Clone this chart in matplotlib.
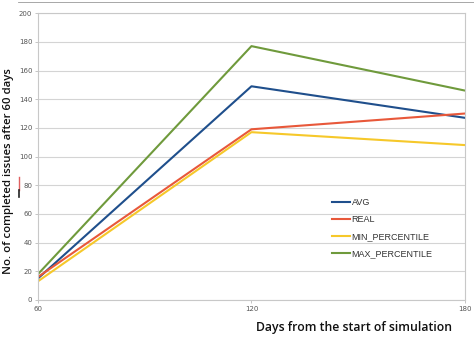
import numpy as np
import matplotlib
matplotlib.use("Agg")
import matplotlib.pyplot as plt
from matplotlib.lines import Line2D

# Data
days = [60, 120, 180]
tick_labels = ["60", "120", "180"]
avg = [15, 149, 127]
real = [16, 119, 130]
min_pct = [13, 117, 108]
max_pct = [18, 177, 146]

series = [
    ("AVG", avg, "#1f4f8c"),
    ("REAL", real, "#e8583a"),
    ("MIN_PERCENTILE", min_pct, "#f6c82a"),
    ("MAX_PERCENTILE", max_pct, "#6f9a3c"),
]

fig = plt.figure(figsize=(4.74, 3.55), dpi=100)
ax = fig.add_axes([0.080, 0.155, 0.901, 0.808])

for name, vals, col in series:
    ax.plot(days, vals, color=col, lw=1.5, label=name)

ax.set_xlim(60, 180)
ax.set_ylim(0, 200)
ax.set_xticks(days)
ax.set_xticklabels(tick_labels)
ax.set_yticks(np.arange(0, 201, 20))
ax.grid(axis="y", color="#d4d4d4", lw=0.8)
ax.set_axisbelow(True)
for s in ax.spines.values():
    s.set_color("#c8c8c8")
    s.set_linewidth(0.8)
ax.tick_params(labelsize=5, colors="#555555", length=2.5, width=0.6, pad=1.5)
ax.tick_params(axis="both", color="#bbbbbb")

ax.set_ylabel("No. of completed issues after 60 days", fontsize=8.2,
              family="Open Sans", weight="semibold", color="#111111")
ax.yaxis.set_label_coords(-0.057, 0.45)
ax.set_xlabel("Days from the start of simulation", fontsize=8.8,
              family="Open Sans", weight="semibold", color="#111111")
ax.xaxis.set_label_coords(0.739, -0.072)

leg = ax.legend(loc="upper left", bbox_to_anchor=(0.67, 0.383), frameon=False,
                prop={"family": "Liberation Sans", "size": 6.5},
                handlelength=2.0, handletextpad=0.15, labelspacing=0.9)
for t in leg.get_texts():
    t.set_color("#333333")

# remnant of the table border above the chart
fig.add_artist(Line2D([0.038, 1.0], [0.994, 0.994], color="#999999", lw=0.6))
# small red/black mark beside the y label
fig.add_artist(Line2D([0.040, 0.040], [0.465, 0.502], color="#e06060", lw=1))
fig.add_artist(Line2D([0.040, 0.040], [0.445, 0.465], color="#222222", lw=1.2))

fig.savefig("out.png", dpi=100)
